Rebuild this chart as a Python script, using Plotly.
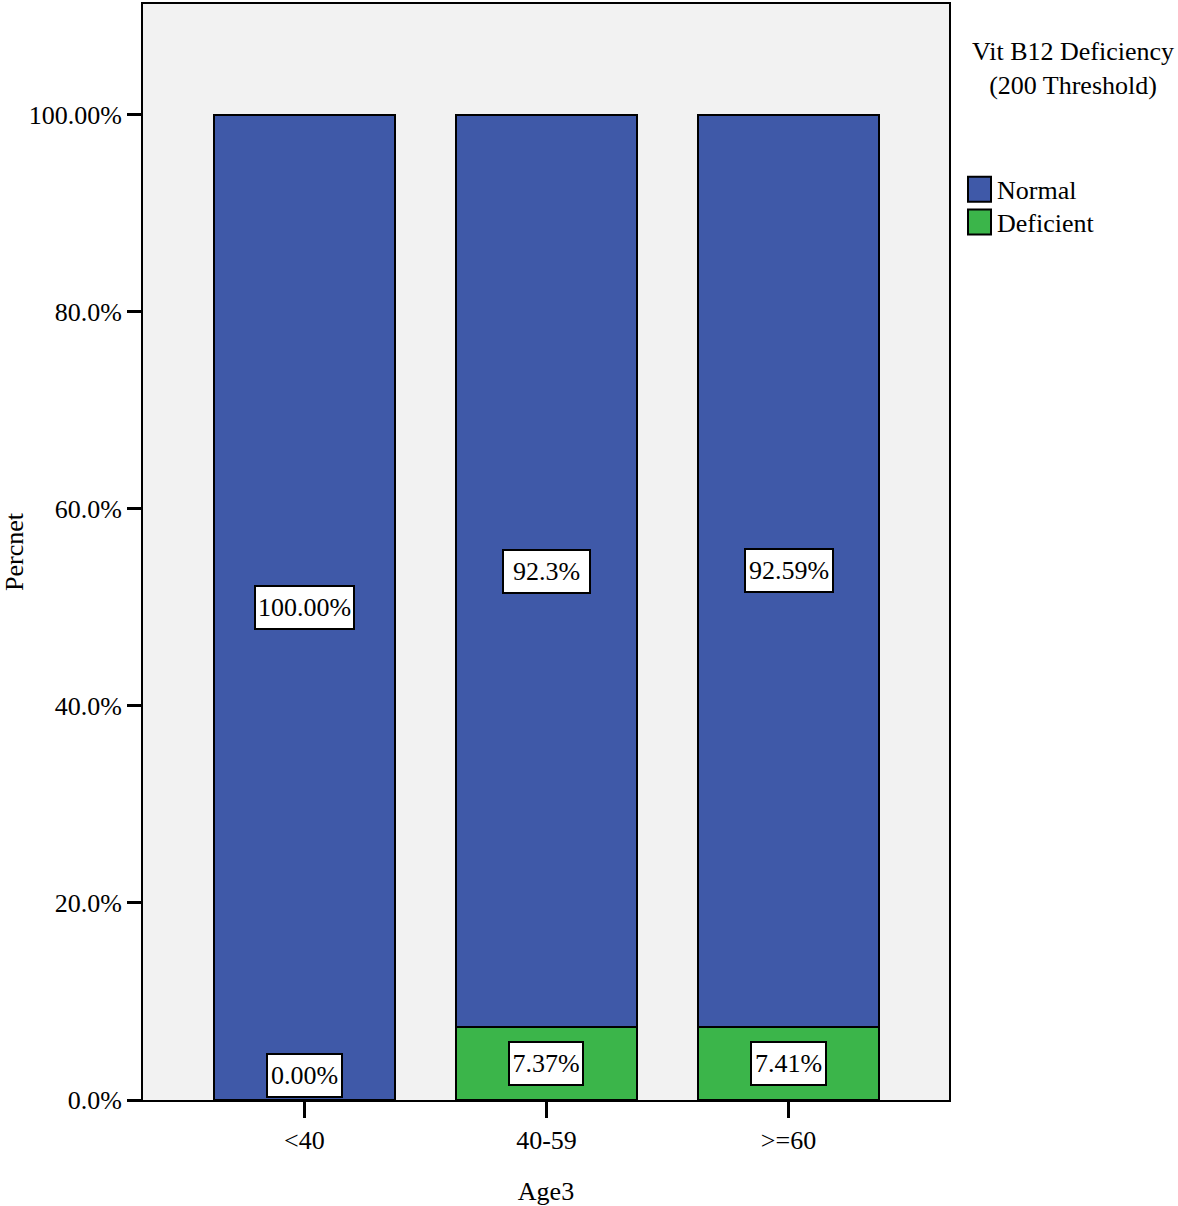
import plotly.graph_objects as go

# ---- data ----
categories = ["<40", "40-59", ">=60"]
deficient = [0.0, 7.37, 7.41]
normal = [100.0, 92.63, 92.59]
deficient_labels = ["0.00%", "7.37%", "7.41%"]
normal_labels = ["100.00%", "92.3%", "92.59%"]
y_tickvals = [0, 20, 40, 60, 80, 100]
y_ticktext = ["0.0%", "20.0%", "40.0%", "60.0%", "80.0%", "100.00%"]
series_names = ["Normal", "Deficient"]
legend_title = "Vit B12 Deficiency<br>(200 Threshold)"

# ---- style ----
BLUE = "#3F59A8"
GREEN = "#3BB54A"
FONT = "Liberation Serif"
FS = 26
deficient_box_w = [71, 70, 71]
normal_box_w = [95, 83, 84]
BOX_H = 39

W, H = 1178, 1206
L, R, T, B = 143, 229, 2, 106
PW, PH = W - L - R, H - T - B


def px_x(x):
    return (x - L) / PW


def px_y(y):
    return (H - B - y) / PH


fig = go.Figure()
fig.add_trace(go.Bar(x=categories, y=deficient, name=series_names[1],
                     marker=dict(color=GREEN, line=dict(color="black", width=2)),
                     width=0.75, showlegend=False))
fig.add_trace(go.Bar(x=categories, y=normal, name=series_names[0],
                     marker=dict(color=BLUE, line=dict(color="black", width=2)),
                     width=0.75, showlegend=False))

annotations = []
for i, c in enumerate(categories):
    d = deficient[i]
    n = normal[i]
    if d > 0:
        annotations.append(dict(x=c, y=d / 2, text=deficient_labels[i], yanchor="middle",
                                width=deficient_box_w[i]))
    else:
        annotations.append(dict(x=c, y=0, text=deficient_labels[i], yanchor="bottom", yshift=2,
                                width=deficient_box_w[i]))
    annotations.append(dict(x=c, y=d + n / 2, text=normal_labels[i], yanchor="middle",
                            width=normal_box_w[i]))
for a in annotations:
    a.update(xref="x", yref="y", showarrow=False, bgcolor="white", bordercolor="black",
             borderwidth=2, borderpad=1, height=BOX_H, align="center", valign="middle",
             font=dict(family=FONT, size=FS, color="black"))

# legend (drawn manually to match square swatch size)
annotations.append(dict(xref="paper", yref="paper", x=px_x(1073), y=px_y(33), text=legend_title,
                        showarrow=False, xanchor="center", yanchor="top", align="center",
                        font=dict(family=FONT, size=FS, color="black")))
shapes = []
swatches = [(series_names[0], BLUE, 175), (series_names[1], GREEN, 208)]
for name, col, top in swatches:
    shapes.append(dict(type="rect", xref="paper", yref="paper",
                       x0=px_x(968), x1=px_x(991), y0=px_y(top + 25), y1=px_y(top),
                       fillcolor=col, line=dict(color="black", width=2)))
    annotations.append(dict(xref="paper", yref="paper", x=px_x(995), y=px_y(top + 14),
                            text=name, showarrow=False, xanchor="left", yanchor="middle",
                            font=dict(family=FONT, size=FS, color="black")))

fig.update_layout(
    barmode="stack",
    width=W, height=H,
    margin=dict(l=L, r=R, t=T, b=B, pad=0),
    paper_bgcolor="white",
    plot_bgcolor="#F2F2F2",
    font=dict(family=FONT, size=FS, color="black"),
    showlegend=False,
    annotations=annotations,
    shapes=shapes,
    xaxis=dict(range=[-0.667, 2.663], showline=True, mirror=True, linecolor="black", linewidth=2,
               ticks="outside", ticklen=16, tickwidth=3, tickcolor="black",
               showgrid=False, zeroline=False, fixedrange=True,
               title=dict(text="Age3", standoff=28, font=dict(family=FONT, size=FS)),
               tickfont=dict(family=FONT, size=FS)),
    yaxis=dict(range=[0, 111.25], showline=True, mirror=True, linecolor="black", linewidth=2,
               tickvals=y_tickvals, ticktext=y_ticktext,
               ticks="outside", ticklen=14, tickwidth=3, tickcolor="black",
               showgrid=False, zeroline=False, fixedrange=True,
               title=dict(text="Percnet", standoff=2, font=dict(family=FONT, size=FS)),
               tickfont=dict(family=FONT, size=FS)),
)

fig.write_html("out.html")
